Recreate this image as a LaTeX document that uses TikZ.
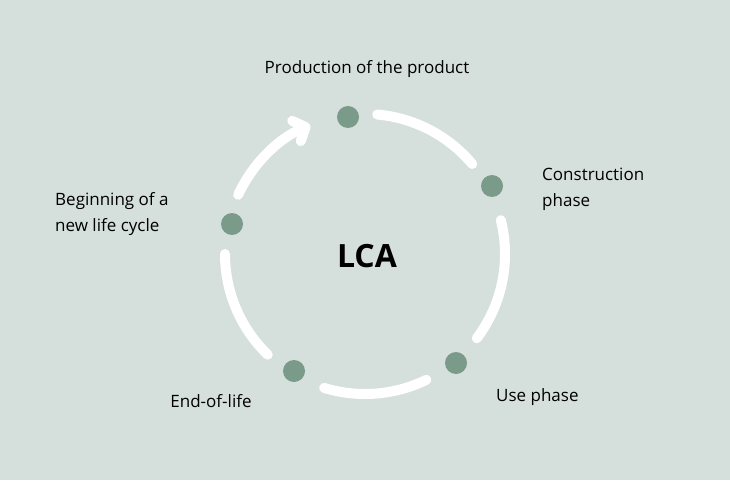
\documentclass[tikz,border=0pt]{standalone}
\usepackage{fontspec}
\setmainfont{Open Sans}
\usetikzlibrary{arrows.meta}
\begin{document}
\begin{tikzpicture}[x=1pt,y=1pt,
  ring/.style={white,line width=10pt,line cap=round},
  dot/.style={circle,fill=dotc,minimum size=22pt,inner sep=0pt},
  lbl/.style={font=\fontsize{17}{26}\selectfont,text=black,inner sep=0pt,align=left}]
\definecolor{bg}{HTML}{D5DFDB}
\definecolor{dotc}{HTML}{7A9A8A}
\fill[bg] (0,0) rectangle (730,480);
\coordinate (c) at (365,226);
\def\R{140}
\draw[ring] (c) ++(85:\R) arc[start angle=85,end angle=40,radius=\R];
\draw[ring] (c) ++(14:\R) arc[start angle=14,end angle=-37,radius=\R];
\draw[ring] (c) ++(-64:\R) arc[start angle=-64,end angle=-107,radius=\R];
\draw[ring] (c) ++(-134:\R) arc[start angle=-134,end angle=-180,radius=\R];
\draw[ring,-{Straight Barb[length=10pt,width=22pt,line cap=round,round]}] (c) ++(155:\R) arc[start angle=155,end angle=113,radius=\R];
\node[dot] (p) at (348,363) {};
\node[dot] (cp) at (492,294) {};
\node[dot] (u) at (456,117) {};
\node[dot] (e) at (294,109) {};
\node[dot] (b) at (232,256) {};
\node[lbl,anchor=center] (lp) at (367,411) {Production of the product};
\node[lbl,anchor=west] (lc) at (542,291) {Construction\\phase};
\node[lbl,anchor=west] (lb) at (55,266) {Beginning of a\\new life cycle};
\node[lbl,anchor=center] (le) at (211,79) {End-of-life};
\node[lbl,anchor=west] (lu) at (496,83) {Use phase};
\node[font=\fontsize{32}{38}\selectfont\bfseries,inner sep=0pt] (lca) at (367,224) {LCA};
\end{tikzpicture}
\end{document}
